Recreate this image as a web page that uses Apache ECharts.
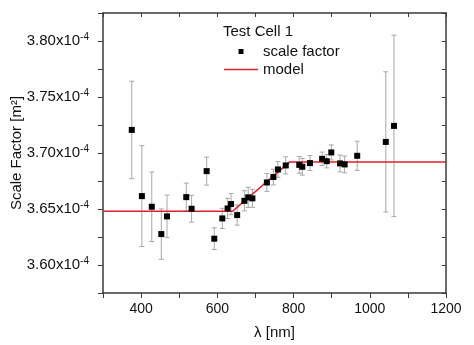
<!DOCTYPE html>
<html>
<head>
<meta charset="utf-8">
<script src="https://cdn.jsdelivr.net/npm/echarts@6/dist/echarts.min.js"></script>
<style>
html,body{margin:0;padding:0;background:#fff;}
#chart{width:474px;height:345px;}
</style>
</head>
<body>
<div id="chart"></div>
<script>
// Measured scale factor (units of 1e-4 m^2) vs wavelength (nm)
var wavelengths = [375.5, 402, 428, 453, 468, 518.5, 532.5, 572, 592, 613, 627, 636, 652, 671, 681, 692, 730, 747, 759, 779.5, 815, 823, 843, 875, 887, 899, 922, 934, 967, 1042, 1063.5];
var scaleValues = [3.7206, 3.6615, 3.6520, 3.6276, 3.6434, 3.6606, 3.6502, 3.6838, 3.6235, 3.6416, 3.6505, 3.6544, 3.6446, 3.6573, 3.6604, 3.6595, 3.6737, 3.6785, 3.6853, 3.6889, 3.6894, 3.6877, 3.6910, 3.6948, 3.6927, 3.7005, 3.6907, 3.6898, 3.6975, 3.7099, 3.7242];
var scaleErrors = [0.0435, 0.045, 0.031, 0.0225, 0.019, 0.0125, 0.012, 0.0125, 0.0097, 0.009, 0.009, 0.0095, 0.009, 0.009, 0.009, 0.008, 0.008, 0.007, 0.007, 0.0077, 0.0075, 0.0075, 0.0067, 0.006, 0.006, 0.0067, 0.0075, 0.0075, 0.013, 0.0626, 0.081];
// Model curve (corner points)
var modelX = [300, 640, 790, 1200];
var modelY = [3.648, 3.648, 3.692, 3.692];

var FONT = "'Liberation Sans', Arial, sans-serif";
var AX = '#3a3a3a';

var scatterData = wavelengths.map(function (x, i) { return [x, scaleValues[i]]; });
var errData = wavelengths.map(function (x, i) { return [x, scaleValues[i], scaleErrors[i]]; });
var modelData = modelX.map(function (x, i) { return [x, modelY[i]]; });

var chart = echarts.init(document.getElementById('chart'), null, {renderer: 'canvas'});
chart.setOption({
  animation: false,
  backgroundColor: '#fff',
  textStyle: {fontFamily: FONT},
  grid: {left: 103, right: 28, top: 13, bottom: 52, containLabel: false, outerBoundsMode: 'none'},
  title: {
    text: 'Test Cell 1', left: 223, top: 24, padding: 0,
    textStyle: {fontFamily: FONT, fontSize: 15, fontWeight: 'normal', color: '#111'}
  },
  legend: {
    orient: 'vertical', left: 224, top: 43, padding: 0, itemGap: 1,
    itemWidth: 34, itemHeight: 5,
    textStyle: {fontFamily: FONT, fontSize: 15, color: '#111', lineHeight: 17},
    data: [
      {name: 'scale factor', icon: 'path://M0,0h1v1h-1z'},
      {name: 'model', icon: 'path://M0,0h34v1.6h-34z'}
    ]
  },
  xAxis: [{
    type: 'value', position: 'bottom', min: 300, max: 1200, interval: 100,
    name: 'λ [nm]', nameLocation: 'middle', nameGap: 32, nameMoveOverlap: false,
    nameTextStyle: {fontFamily: FONT, fontSize: 15, color: '#111'},
    axisLine: {show: true, onZero: false, lineStyle: {color: AX, width: 1.5}},
    axisTick: {show: true, inside: false, length: 5, lineStyle: {color: AX, width: 1}},
    axisLabel: {
      show: true, interval: 0, margin: 9, fontFamily: FONT, fontSize: 14, color: '#111',
      formatter: function (v) { return (v % 200 === 0) ? String(v) : ''; }
    },
    splitLine: {show: false}
  }, {
    type: 'value', position: 'top', min: 300, max: 1200, interval: 100,
    axisLine: {show: true, onZero: false, lineStyle: {color: AX, width: 1.5}},
    axisTick: {show: true, inside: true, length: 4, lineStyle: {color: AX, width: 1}},
    axisLabel: {show: false},
    splitLine: {show: false}
  }],
  yAxis: [{
    type: 'value', position: 'left', min: 3.575, max: 3.825, interval: 0.025,
    name: 'Scale Factor [m²]', nameLocation: 'middle', nameGap: 79, nameRotate: 90, nameMoveOverlap: false,
    nameTextStyle: {fontFamily: FONT, fontSize: 15, color: '#111'},
    axisLine: {show: true, onZero: false, lineStyle: {color: AX, width: 1.5}},
    axisTick: {show: true, inside: false, length: 5, lineStyle: {color: AX, width: 1}},
    axisLabel: {
      show: true, interval: 0, margin: 14, color: '#111',
      formatter: function (v) {
        var k = Math.round(v * 1000);
        if (k % 50 !== 0) return '';
        return '{b|' + (k / 1000).toFixed(2) + 'x10}{s|-4}';
      },
      rich: {
        b: {fontFamily: FONT, fontSize: 15, color: '#111', lineHeight: 18},
        s: {fontFamily: FONT, fontSize: 10, color: '#111', verticalAlign: 'top', lineHeight: 18}
      }
    },
    splitLine: {show: false}
  }, {
    type: 'value', position: 'right', min: 3.575, max: 3.825, interval: 0.025,
    axisLine: {show: true, onZero: false, lineStyle: {color: AX, width: 1.5}},
    axisTick: {show: true, inside: true, length: 4, lineStyle: {color: AX, width: 1}},
    axisLabel: {show: false},
    splitLine: {show: false}
  }],
  series: [{
    name: 'errors', type: 'custom', z: 2, silent: true,
    data: errData,
    renderItem: function (params, api) {
      var x = api.value(0), y = api.value(1), e = api.value(2);
      var t = api.coord([x, y + e]);
      var b = api.coord([x, y - e]);
      var hw = 2.5;
      var st = {stroke: '#a8a8a8', lineWidth: 1};
      return {
        type: 'group', children: [
          {type: 'line', shape: {x1: t[0], y1: t[1], x2: b[0], y2: b[1]}, style: st},
          {type: 'line', shape: {x1: t[0] - hw, y1: t[1], x2: t[0] + hw, y2: t[1]}, style: st},
          {type: 'line', shape: {x1: b[0] - hw, y1: b[1], x2: b[0] + hw, y2: b[1]}, style: st}
        ]
      };
    }
  }, {
    name: 'model', type: 'line', z: 3, data: modelData,
    symbol: 'none', showSymbol: false,
    lineStyle: {color: '#e0202a', width: 1.6},
    itemStyle: {color: '#e0202a'}
  }, {
    name: 'scale factor', type: 'scatter', z: 4, data: scatterData,
    symbol: 'rect', symbolSize: 6,
    itemStyle: {color: '#000', opacity: 1}
  }]
});
</script>
</body>
</html>
